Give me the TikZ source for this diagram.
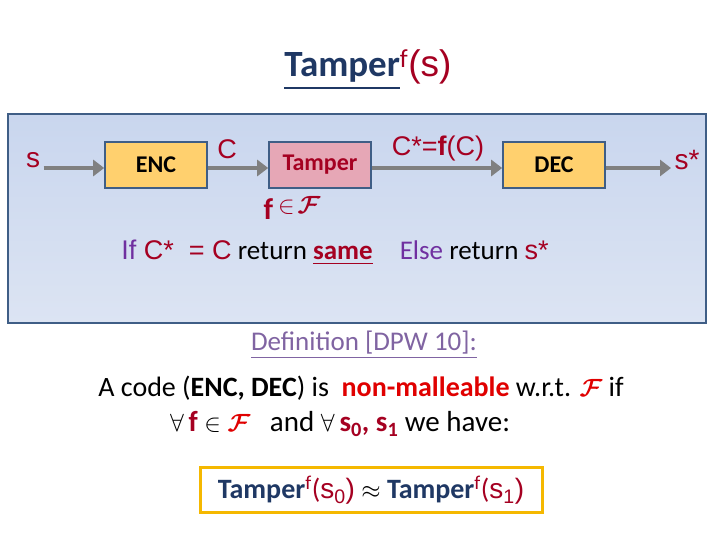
\documentclass[tikz,border=0pt]{standalone}
\usepackage{amsmath,amssymb}
\usepackage{fontspec}
\setmainfont{Carlito}
\newfontfamily\ar{Liberation Sans}
\usetikzlibrary{arrows.meta}
\definecolor{dred}{HTML}{A50021}
\definecolor{rred}{HTML}{E00000}
\definecolor{navy}{HTML}{1F3864}
\definecolor{purp}{HTML}{7030A0}
\definecolor{defc}{HTML}{8064A2}
\definecolor{bord}{HTML}{3F5E86}
\definecolor{encf}{HTML}{FFD06E}
\definecolor{tamf}{HTML}{E6A7B6}
\definecolor{arr}{HTML}{808080}
\definecolor{gold}{HTML}{F5B800}
\definecolor{bgtop}{HTML}{C9D6EE}
\definecolor{bgbot}{HTML}{DCE4F3}
\tikzset{blk/.style={draw=bord,line width=1.6pt,minimum width=102pt,minimum height=46pt},
 conn/.style={draw=arr,line width=4pt,-{Triangle[length=11pt,width=16pt]}}}
\newcommand{\FF}{\ensuremath{\boldsymbol{\mathcal{F}}}}
\begin{document}
\begin{tikzpicture}[x=1pt,y=-1pt]
\useasboundingbox (0,0) rectangle (720,540);
\fill[white] (0,0) rectangle (720,540);
\shade[top color=bgtop, bottom color=bgbot, draw=bord, line width=2.5pt] (8,114) rectangle (706,323);
\node (title) at (368,70) {\fontsize{37}{37}\selectfont\textbf{\color{navy}\underline{Tamper}}\textsuperscript{\color{dred}f}{\color{dred}\ar(s)}};
\node[text=dred,font=\ar\fontsize{28}{28}\selectfont] (s) at (33,160) {s};
\node[blk,fill=encf,font=\fontsize{24}{24}\selectfont\bfseries] (enc) at (156,165) {ENC};
\node[blk,fill=tamf,text=dred,font=\fontsize{24}{24}\selectfont\bfseries] (tam) at (320,165) {Tamper};
\node[blk,fill=encf,font=\fontsize{24}{24}\selectfont\bfseries] (dec) at (554,165) {DEC};
\node[text=dred,font=\ar\fontsize{28}{28}\selectfont] (so) at (687,160) {s*};
\draw[conn] (s.east |- 0,168) -- (enc.west |- 0,168);
\draw[conn] (enc.east |- 0,168) -- (tam.west |- 0,168);
\draw[conn] (tam.east |- 0,168) -- (dec.west |- 0,168);
\draw[conn] (dec.east |- 0,168) -- (so.west |- 0,168);
\node[text=dred,font=\ar\fontsize{27}{27}\selectfont] (cl) at (227,149) {C};
\node[text=dred,font=\ar\fontsize{27}{27}\selectfont] (csl) at (438,149) {C*=\textbf{f}(C)};
\node[text=dred,font=\fontsize{30}{30}\selectfont] (fin) at (292,208) {\textbf{f}\,\raisebox{6pt}{$\in\!\FF$}};
\node (ifl) at (335,253) {\fontsize{27}{27}\selectfont{\ar\color{purp}If }{\ar\color{dred}C*\ \ = C} return {\color{dred}\textbf{\underline{same}}}\quad{\color{purp}Else} return {\ar\color{dred}s*}};
\node[text=defc,font=\fontsize{27}{27}\selectfont] (def) at (364,345) {\underline{Definition [DPW 10]:}};
\node[font=\fontsize{28}{28}\selectfont] (l1) at (361,388) {A code (\textbf{ENC, DEC}) is \ {\color{rred}\textbf{non-malleable}} w.r.t. {\color{rred}\FF} if};
\node[font=\fontsize{29}{29}\selectfont] (l2) at (340,424) {$\forall$\,{\color{dred}\textbf{f}} $\in$ {\color{rred}\FF}\ \ \ and $\forall$\,{\color{dred}\textbf{s\textsubscript{0}, s\textsubscript{1}}} we have:};
\node[draw=gold,line width=3pt,minimum width=342pt,minimum height=45pt,font=\fontsize{28}{28}\selectfont] (tb) at (371,490) {{\color{navy}\textbf{Tamper}}\textsuperscript{\color{dred}f}{\color{dred}(\ar s\textsubscript{0})} $\approx$ {\color{navy}\textbf{Tamper}}\textsuperscript{\color{dred}f}{\color{dred}(\ar s\textsubscript{1})}};
\end{tikzpicture}
\end{document}
